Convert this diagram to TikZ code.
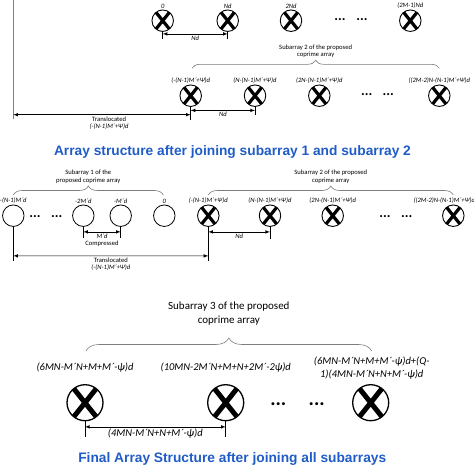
\documentclass[tikz,border=0pt]{standalone}
\usepackage{fontspec}
\setmainfont{Carlito}
\newfontfamily\arialfont{Liberation Sans}
\usetikzlibrary{positioning,decorations.pathreplacing}
\definecolor{headblue}{RGB}{32,92,200}
\definecolor{bracegray}{RGB}{125,125,125}
\newcommand{\Mq}{M´}

\begin{document}
\begin{tikzpicture}[x=1pt,y=-1pt,
	xel/.style={circle,draw,line width=0.9pt,minimum size=21.5pt,inner sep=0pt,
		path picture={\draw[line width=3.2pt]
			([shift={(-7pt,-8.7pt)}]path picture bounding box.center) -- ([shift={(7pt,8.7pt)}]path picture bounding box.center)
			([shift={(-7pt,8.7pt)}]path picture bounding box.center) -- ([shift={(7pt,-8.7pt)}]path picture bounding box.center);}},
	bigxel/.style={circle,draw,line width=1.3pt,minimum size=36pt,inner sep=0pt,
		path picture={\draw[line width=5pt]
			([shift={(-13pt,-16.3pt)}]path picture bounding box.center) -- ([shift={(13pt,16.3pt)}]path picture bounding box.center)
			([shift={(-13pt,16.3pt)}]path picture bounding box.center) -- ([shift={(13pt,-16.3pt)}]path picture bounding box.center);}},
	emp/.style={circle,draw,line width=0.8pt,minimum size=21.5pt,inner sep=0pt},
	lab/.style={font=\fontsize{6.6}{7.2}\selectfont\itshape,inner sep=0.5pt},
	txt/.style={font=\fontsize{6.6}{7.2}\selectfont,inner sep=0.5pt,align=center},
	biglab/.style={font=\fontsize{10.5}{13}\selectfont\itshape,inner sep=0.5pt,align=center},
	bigtxt/.style={font=\fontsize{11}{14}\selectfont,inner sep=0.5pt,align=center},
	dots/.style={font=\fontsize{14}{14}\selectfont\bfseries,inner sep=0pt},
	bigdots/.style={font=\fontsize{20}{20}\selectfont\bfseries,inner sep=0pt},
	tick/.style={line width=0.5pt},
	dim/.style={latex-latex,line width=0.6pt},
	brc/.style={draw=bracegray,line width=0.6pt,decorate,decoration={brace,amplitude=#1}},
	head/.style={font=\arialfont\bfseries\fontsize{13.75}{16}\selectfont,text=headblue,inner sep=0pt},
]
\useasboundingbox (0,0) rectangle (474,474);

% subarray 2 before and after translocation
\coordinate (edge0) at (13.3,0);
\coordinate (edge1) at (13.3,119);
\draw[draw=gray,line width=1pt] (edge0) -- (edge1);

\node[xel] (r1a) at (162.7,20.7) {};
\node[xel] (r1b) at (227.7,20.7) {};
\node[xel] (r1c) at (291,20.7) {};
\node[xel] (r1d) at (410.3,20.7) {};
\node[dots] (r1e) at (340,20) {...};
\node[dots] (r1f) at (362,20) {...};
\node[lab,above=0.5pt of r1a] (l1a) {0};
\node[lab,above=0.5pt of r1b] (l1b) {Nd};
\node[lab,above=0.5pt of r1c] (l1c) {2Nd};
\node[lab,above=0.5pt of r1d] (l1d) {(2M-1)Nd};
\draw[tick] (r1a.south) -- ++(0,7);
\draw[tick] (r1b.south) -- ++(0,7);
\draw[dim] ([yshift=-2pt]r1a.south) -- ([yshift=-2pt]r1b.south) node[lab,midway,below=1pt] {Nd};
\draw[brc=8pt] (192,68.3) -- (439.3,68.3) node[txt,midway,above=10pt] {Subarray 2 of the proposed\\coprime array};

\node[xel] (r2a) at (190.7,95.7) {};
\node[xel] (r2b) at (255,95.7) {};
\node[xel] (r2c) at (319.3,95.7) {};
\node[xel] (r2d) at (439.3,95.7) {};
\node[dots] (r2e) at (366.7,95) {...};
\node[dots] (r2f) at (388.3,95) {...};
\node[lab,above=0.5pt of r2a] (l2a) {(-(N-1)\Mq+Ψ)d};
\node[lab,above=0.5pt of r2b] (l2b) {(N-(N-1)\Mq+Ψ)d};
\node[lab,above=0.5pt of r2c] (l2c) {(2N-(N-1)\Mq+Ψ)d};
\node[lab,above=0.5pt of r2d] (l2d) {((2M-2)N-(N-1)\Mq+Ψ)d};
\draw[tick] (r2a.south) -- ++(0,13.5);
\draw[tick] (r2b.south) -- ++(0,8.5);
\draw[dim] ([yshift=-3.5pt]r2a.south) -- ([yshift=-3.5pt]r2b.south) node[lab,midway,below=1pt] {Nd};
\path ([yshift=-7.8pt]r2a.south) coordinate (tr1);
\draw[dim] (edge1 |- tr1) -- (tr1) node[txt,pos=0.54,below=1pt] {Translocated\\{\itshape(-(N-1)\Mq+Ψ)d}};

\node[head] (head1) at (232.5,151.7) {Array structure after joining subarray 1 and subarray 2};

% subarray 1 compressed, subarray 2 translocated
\draw[brc=9pt] (13.3,195) -- (163.3,195) node[txt,midway,above=11pt] {Subarray 1 of the\\proposed coprime array};
\draw[brc=9pt] (208.3,195) -- (453.3,195) node[txt,midway,above=11pt] {Subarray 2 of the proposed\\coprime array};

\node[emp] (m1) at (13.3,215.7) {};
\node[emp] (m2) at (83.3,215.7) {};
\node[emp] (m3) at (120.7,215.7) {};
\node[emp] (m4) at (164.3,215.7) {};
\node[xel] (m5) at (208.3,215.7) {};
\node[xel] (m6) at (270,215.7) {};
\node[xel] (m7) at (332.7,215.7) {};
\node[xel] (m8) at (453.3,215.7) {};
\node[dots] (m9) at (35,217) {...};
\node[dots] (m10) at (56.7,217) {...};
\node[dots] (m11) at (385,217) {...};
\node[dots] (m12) at (406.7,217) {...};
\node[lab,above=0pt of m1] (n1) {-(N-1)\Mq d};
\node[lab,above=0pt of m2] (n2) {-2\Mq d};
\node[lab,above=0pt of m3] (n3) {-\Mq d};
\node[lab,above=0pt of m4] (n4) {0};
\node[lab,above=0pt of m5] (n5) {(-(N-1)\Mq+Ψ)d};
\node[lab,above=0pt of m6] (n6) {(N-(N-1)\Mq+Ψ)d};
\node[lab,above=0pt of m7] (n7) {(2N-(N-1)\Mq+Ψ)d};
\node[lab,above=0pt of m8,xshift=-9pt] (n8) {((2M-2)N-(N-1)\Mq+Ψ)d};
\draw[tick] (m2.south) -- ++(0,11.5);
\draw[tick] (m3.south) -- ++(0,11.5);
\draw[dim] ([yshift=-5pt]m2.south) -- ([yshift=-5pt]m3.south) node[txt,midway,below=1pt] {{\itshape\Mq d}\\Compressed};
\draw[tick] (m5.south) -- ++(0,34);
\draw[tick] (m6.south) -- ++(0,11.6);
\draw[dim] ([yshift=-5pt]m5.south) -- ([yshift=-5pt]m6.south) node[lab,midway,below=1pt] {Nd};
\draw[tick] (m1.south) -- ++(0,34);
\draw[dim] ([yshift=-29pt]m1.south) -- ([yshift=-29pt]m5.south) node[txt,midway,below=1pt] {Translocated\\{\itshape(-(N-1)\Mq+Ψ)d}};

% final structure
\draw[brc=13pt] (86,351) -- (371.7,351) node[bigtxt,midway,above=25pt] {Subarray 3 of the proposed\\coprime array};

\node[bigxel] (f1) at (85,402.7) {};
\node[bigxel] (f2) at (225.7,402.7) {};
\node[bigxel] (f3) at (370.7,402.7) {};
\node[bigdots] (f4) at (278.3,404) {...};
\node[bigdots] (f5) at (316.7,404) {...};
\node[biglab] (g1) at (85,367.3) {(6MN-\Mq N+M+\Mq-ψ)d};
\node[biglab] (g2) at (225.7,367.3) {(10MN-2\Mq N+M+N+2\Mq-2ψ)d};
\node[biglab] (g3) at (371.7,368.3) {(6MN-\Mq N+M+\Mq-ψ)d+(Q-\\1)(4MN-\Mq N+N+\Mq-ψ)d};
\draw[tick] (f1.south) -- ++(0,16);
\draw[tick] (f2.south) -- ++(0,16);
\draw[dim] ([yshift=-5.5pt]f1.south) -- ([yshift=-5.5pt]f2.south) node[biglab,midway,below=1.5pt] {(4MN-\Mq N+N+\Mq-ψ)d};

\node[head] (head2) at (232.3,459.3) {Final Array Structure after joining all subarrays};
\end{tikzpicture}
\end{document}
